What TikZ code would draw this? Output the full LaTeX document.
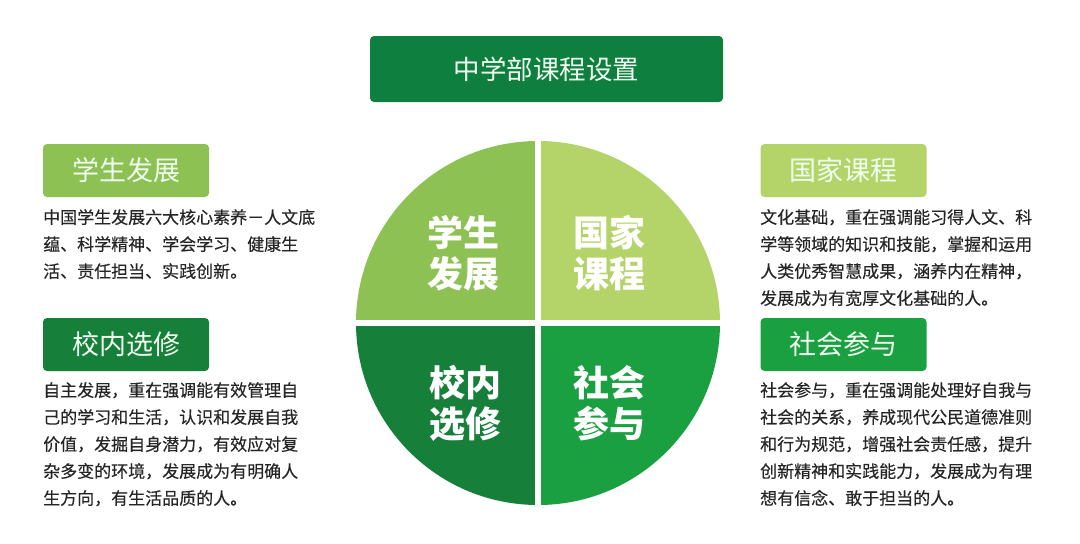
\documentclass[tikz,border=0pt]{standalone}
\usepackage{fontspec}
\setmainfont{Noto Sans CJK SC}
\newfontfamily\bodyfont[FakeBold=0.35]{Noto Sans CJK SC}
\usetikzlibrary{positioning}
\definecolor{headgreen}{HTML}{0E7F3F}
\definecolor{leafgreen}{HTML}{8DC153}
\definecolor{limegreen}{HTML}{B4D46A}
\definecolor{forestgreen}{HTML}{167F3A}
\definecolor{grassgreen}{HTML}{1A9F41}
\definecolor{bodygray}{HTML}{262626}
\begin{document}
\begin{tikzpicture}
      [x=1pt,y=-1pt,
       headbox/.style={fill=headgreen,rounded corners=4pt,text=white!94!green,inner sep=0pt,
         minimum width=353pt,minimum height=66pt,font=\fontsize{26.5}{30}\selectfont},
       tagbox/.style={rounded corners=4pt,inner sep=0pt,text=white!94!green,
         minimum width=166pt,minimum height=53pt,font=\fontsize{27}{30}\selectfont},
       bodytext/.style={anchor=north west,align=left,inner sep=0pt,text=bodygray,
         font=\bodyfont\fontsize{17}{27}\selectfont},
       bigword/.style={text=white,align=center,inner sep=0pt,
         font=\bfseries\fontsize{36}{41}\selectfont}]

  \useasboundingbox (0,0) rectangle (1080,544);

%title
  \node[headbox] (title) at (546.5,69) {中学部课程设置};

%the four quarters of the circle
  \begin{scope}
    \clip (538,323) circle (182);
    \fill[leafgreen] (350,135) rectangle (535,320);
    \fill[limegreen] (541,135) rectangle (725,320);
    \fill[forestgreen] (350,326) rectangle (535,510);
    \fill[grassgreen] (541,326) rectangle (725,510);
  \end{scope}

  \node[bigword] (growth) at (463,253) {学生\\发展};
  \node[bigword] (nation) at (609,253) {国家\\课程};
  \node[bigword] (elective) at (465,403) {校内\\选修};
  \node[bigword] (society) at (609,403) {社会\\参与};

%left column
  \node[tagbox,fill=leafgreen] (growthtag) at (126,170.5) {学生发展};
  \node[bodytext] (growthtext) at (43,209) {中国学生发展六大核心素养－人文底\\
    蕴、科学精神、学会学习、健康生\\
    活、责任担当、实践创新。};

  \node[tagbox,fill=forestgreen] (electivetag) at (126,344.5) {校内选修};
  \node[bodytext] (electivetext) at (43,382) {自主发展，重在强调能有效管理自\\
    己的学习和生活，认识和发展自我\\
    价值，发掘自身潜力，有效应对复\\
    杂多变的环境，发展成为有明确人\\
    生方向，有生活品质的人。};

%right column
  \node[tagbox,fill=limegreen] (nationtag) at (843.5,170.5) {国家课程};
  \node[bodytext] (nationtext) at (760,209) {文化基础，重在强调能习得人文、科\\
    学等领域的知识和技能，掌握和运用\\
    人类优秀智慧成果，涵养内在精神，\\
    发展成为有宽厚文化基础的人。};

  \node[tagbox,fill=grassgreen] (societytag) at (843.5,344.5) {社会参与};
  \node[bodytext] (societytext) at (760,382) {社会参与，重在强调能处理好自我与\\
    社会的关系，养成现代公民道德准则\\
    和行为规范，增强社会责任感，提升\\
    创新精神和实践能力，发展成为有理\\
    想有信念、敢于担当的人。};

\end{tikzpicture}
\end{document}
